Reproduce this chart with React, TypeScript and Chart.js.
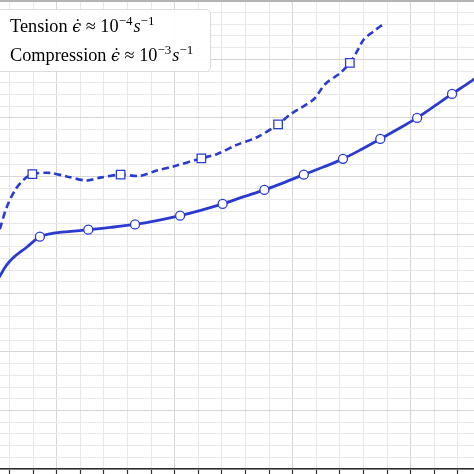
import React, { useEffect, useRef } from "react";
import { Chart, registerables } from "chart.js";

Chart.register(...registerables);

// Tension (solid line, circle markers)
const tensionStrain = [2.45, 2.6, 2.85, 3.16, 3.73, 4.29, 4.86, 5.6, 6.34, 7.3, 8.32, 9.3, 10.23, 11.1, 12.03, 12.9, 13.8, 14.6, 15.47, 16.3, 17.13, 17.9, 18.71, 19.5, 20.27, 21.0, 21.75, 22.5, 23.0];
const tensionStress = [320, 330, 347, 361, 379, 397, 403, 406, 409, 413, 418, 425, 433, 442, 453, 465, 477, 489, 503, 516, 530, 546, 564, 582, 600, 620, 641, 661, 676];
const tensionMarkerIdx = [5, 8, 10, 12, 14, 16, 18, 20, 22, 24, 26];

// Compression (dashed line, square markers)
const compressionStrain = [2.45, 2.6, 2.88, 3.23, 3.59, 3.97, 4.72, 5.42, 6.27, 6.84, 7.71, 8.53, 9.24, 9.94, 11.13, 11.78, 12.63, 13.49, 14.38, 14.9, 15.89, 16.38, 17.02, 17.42, 17.73, 18.01, 18.43, 18.86];
const compressionStress = [392, 411, 447, 476, 494, 504, 506, 500, 493, 498, 503, 501, 510, 517, 531, 538, 554, 567, 589, 606, 632, 658, 677, 694, 714, 734, 748, 761];
const compressionMarkerIdx = [5, 10, 14, 18, 23];

const seriesLabels = ["Tension", "Compression"];
const rateExponents = ["−4", "−3"];

const X_MIN = 2.6;
const X_MAX = 22.68;
const Y_MIN = 0;
const Y_MAX = 801.5;

const BLUE = "#2a3cd0";

function LegendLine({ label, exp, top }: { label: string; exp: string; top: number }) {
  const sup: React.CSSProperties = { fontSize: "13px", position: "relative", top: "-7px" };
  return (
    <div
      style={{
        position: "absolute",
        left: 10,
        top,
        whiteSpace: "nowrap",
        fontFamily: "'Liberation Serif', 'Times New Roman', serif",
        fontSize: "18.3px",
        lineHeight: "18px",
        color: "#000",
      }}
    >
      {label}{" "}
      <span style={{ position: "relative", fontStyle: "italic", fontFamily: "'DejaVu Serif', serif", fontSize: "16px" }}>
        ϵ
        <span style={{ position: "absolute", left: "1.5px", top: "1px", fontStyle: "normal", fontSize: "16px" }}>˙</span>
      </span>
      {" ≈ 10"}
      <span style={sup}>{exp}</span>
      <span style={{ fontStyle: "italic", marginLeft: "1px" }}>s</span>
      <span style={sup}>−1</span>
    </div>
  );
}

export default function App() {
  const canvasRef = useRef<HTMLCanvasElement | null>(null);

  useEffect(() => {
    if (!canvasRef.current) return;
    const chart = new Chart(canvasRef.current, {
      type: "line",
      data: {
        datasets: [
          {
            label: seriesLabels[0],
            data: tensionStrain.map((x, i) => ({ x, y: tensionStress[i] })),
            borderColor: BLUE,
            borderWidth: 2.8,
            fill: false,
            tension: 0.3,
            pointStyle: "circle",
            pointRadius: (ctx: any) => (tensionMarkerIdx.includes(ctx.dataIndex) ? 4.5 : 0),
            pointBackgroundColor: "#ffffff",
            pointBorderColor: BLUE,
            pointBorderWidth: 1.3,
            pointHoverRadius: 0,
          },
          {
            label: seriesLabels[1],
            data: compressionStrain.map((x, i) => ({ x, y: compressionStress[i] })),
            borderColor: BLUE,
            borderWidth: 2.6,
            borderDash: [7, 4],
            fill: false,
            tension: 0.3,
            pointStyle: "rect",
            pointRadius: (ctx: any) => (compressionMarkerIdx.includes(ctx.dataIndex) ? 6 : 0),
            pointBackgroundColor: "#ffffff",
            pointBorderColor: BLUE,
            pointBorderWidth: 1.3,
            pointHoverRadius: 0,
          },
        ],
      },
      options: {
        responsive: true,
        maintainAspectRatio: false,
        animation: false,
        events: [],
        layout: { padding: 0 },
        plugins: {
          legend: { display: false },
          tooltip: { enabled: false },
          title: { display: false },
        },
        scales: {
          x: {
            type: "linear",
            min: X_MIN,
            max: X_MAX,
            ticks: { display: false, stepSize: 1, includeBounds: false },
            grid: {
              color: (ctx: any) => (ctx.tick && Math.abs(ctx.tick.value % 5) < 1e-6 ? "#d6d6d6" : "#e8e8e8"),
              lineWidth: 1,
              drawTicks: true,
              tickLength: 5,
              tickColor: "#333333",
              tickWidth: 1.2,
            },
            border: { display: true, color: "#2b2b2b", width: 1.5 },
          },
          y: {
            type: "linear",
            min: Y_MIN,
            max: Y_MAX,
            ticks: { display: false, stepSize: 20, includeBounds: false },
            grid: {
              color: (ctx: any) => {
                const v = ctx.tick ? ctx.tick.value : 0;
                if (Math.abs(v - 800) < 1e-6) return "#b4b4b4";
                return Math.abs(v % 100) < 1e-6 ? "#d6d6d6" : "#e8e8e8";
              },
              lineWidth: (ctx: any) => (ctx.tick && Math.abs(ctx.tick.value - 800) < 1e-6 ? 2 : 1),
              drawTicks: false,
            },
            border: { display: false },
          },
        },
      },
    } as any);
    return () => chart.destroy();
  }, []);

  return (
    <div
      style={{
        position: "fixed",
        left: 0,
        top: 0,
        width: 474,
        height: 474,
        overflow: "hidden",
        background: "#ffffff",
      }}
    >
      <canvas ref={canvasRef} style={{ position: "absolute", left: 0, top: 0 }} />
      <div
        style={{
          position: "absolute",
          left: -30,
          top: 9,
          width: 239,
          height: 61,
          background: "rgba(255,255,255,0.92)",
          border: "1px solid #dcdcdc",
          borderRadius: 5,
        }}
      />
      <LegendLine label={seriesLabels[0]} exp={rateExponents[0]} top={17} />
      <LegendLine label={seriesLabels[1]} exp={rateExponents[1]} top={46} />
    </div>
  );
}
